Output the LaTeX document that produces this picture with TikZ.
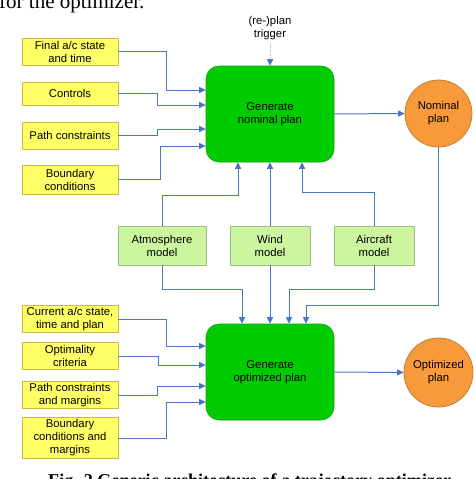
\documentclass[tikz,border=0pt]{standalone}
\usepackage{fontspec}
\setmainfont{Liberation Serif}
\setsansfont{Liberation Sans}
\usepackage{tikz}
\usetikzlibrary{positioning,arrows.meta}
\definecolor{toyellow}{HTML}{FFFF66}
\definecolor{toyellowline}{HTML}{CDB93E}
\definecolor{togreen}{HTML}{00CC00}
\definecolor{togreenline}{HTML}{10A010}
\definecolor{tolight}{HTML}{CCF5A0}
\definecolor{tolightline}{HTML}{9DBE80}
\definecolor{toorange}{HTML}{F79A3C}
\definecolor{toorangeline}{HTML}{C77C32}
\definecolor{toblue}{HTML}{4A74C4}

\begin{document}
\begin{tikzpicture}[x=1pt,y=-1pt,
    txt/.style={font=\sffamily\fontsize{11.3}{13}\selectfont,align=center},
    inbox/.style={txt,draw=toyellowline,fill=toyellow,line width=0.8pt,
                  minimum width=96pt,minimum height=27pt,inner sep=2pt},
    modbox/.style={txt,draw=tolightline,fill=tolight,line width=0.8pt,
                   minimum height=39pt,inner sep=2pt},
    genbox/.style={txt,draw=togreenline,fill=togreen,line width=0.6pt,
                   rounded corners=13pt,minimum width=128pt,minimum height=96pt},
    plan/.style={txt,circle,draw=toorangeline,fill=toorange,line width=0.8pt,
                 inner sep=0pt},
    link/.style={toblue,line width=1pt,-{Triangle[length=6.5pt,width=6pt]}}]
    \useasboundingbox (0,0) rectangle (474,479);
    \clip (0,0) rectangle (474,479);
    % caption fragments
    \node[anchor=base west,inner sep=0pt,font=\fontsize{21}{24}\selectfont] (capa) at (-1,9){for the optimizer.};
    \node[anchor=base west,inner sep=0pt,font=\bfseries\fontsize{18.1}{21}\selectfont] (capb) at (48,486){Fig. 2 Generic architecture of a trajectory optimizer};
    % nominal plan inputs
    \node[inbox] (fin) at (70,51.5){Final a/c state\\and time};
    \node[inbox,minimum height=23pt] (ctl) at (70,93.5){Controls};
    \node[inbox] (pth) at (70,135.5){Path constraints};
    \node[inbox,minimum height=29pt] (bnd) at (70,179.5){Boundary\\conditions};
    % generators and plans
    \node[txt] (trg) at (270,28){(re-)plan\\trigger};
    \node[genbox] (gnom) at (270,114){Generate\\nominal plan};
    \node[genbox] (gopt) at (270,372){Generate\\optimized plan};
    \node[plan,minimum size=67pt] (nomp) at (438.5,113.5){Nominal\\plan};
    \node[plan,minimum size=69pt] (optp) at (438.5,372.5){Optimized\\plan};
    % models
    \node[modbox,minimum width=88pt] (atm) at (162,245.5){Atmosphere\\model};
    \node[modbox,minimum width=80pt] (wnd) at (270,245.5){Wind\\model};
    \node[modbox,minimum width=80pt] (acm) at (374,245.5){Aircraft\\model};
    % optimized plan inputs
    \node[inbox] (cur) at (70,319){Current a/c state,\\time and plan};
    \node[inbox] (crt) at (70,356){Optimality\\criteria};
    \node[inbox] (pcm) at (70,395){Path constraints\\and margins};
    \node[inbox,minimum height=40pt] (bcm) at (70,438){Boundary\\conditions and\\margins};
    % links into nominal generator
    \draw[link] (fin.east) -- ++(48,0) |- ([yshift=24pt]gnom.west);
    \draw[link] (ctl.east) -- ++(39,0) |- ([yshift=9pt]gnom.west);
    \draw[link] (pth.east) -- ++(39,0) |- ([yshift=-15pt]gnom.west);
    \draw[link] (bnd.east) -- ++(42,0) |- ([yshift=-32pt]gnom.west);
    \draw[toblue!55,line width=1pt,densely dotted,
          -{Triangle[length=6.5pt,width=6pt,color=toblue]}] (trg.south) -- (gnom.north);
    \draw[link] (atm.north) -- ++(0,-30) -| ([xshift=-32pt]gnom.south);
    \draw[link] (wnd.north) -- (gnom.south);
    \draw[link] (acm.north) -- ++(0,-33) -| ([xshift=32pt]gnom.south);
    \draw[link] (gnom.east) -- (nomp.west);
    % links into optimized generator
    \draw[link] (atm.south) -- ++(0,24) -| ([xshift=-28pt]gopt.north);
    \draw[link] (wnd.south) -- (gopt.north);
    \draw[link] (acm.south) -- ++(0,24) -| ([xshift=19pt]gopt.north);
    \draw[link] (nomp.south) -- ++(0,158) -| ([xshift=36pt]gopt.north);
    \draw[link] (cur.east) -- ++(48,0) |- ([yshift=26pt]gopt.west);
    \draw[link] (crt.east) -- ++(40,0) |- ([yshift=7pt]gopt.west);
    \draw[link] (pcm.east) -- ++(39,0) |- ([yshift=-14pt]gopt.west);
    \draw[link] (bcm.east) -- ++(48,0) |- ([yshift=-30pt]gopt.west);
    \draw[link] (gopt.east) -- (optp.west);
  \end{tikzpicture}
\end{document}
